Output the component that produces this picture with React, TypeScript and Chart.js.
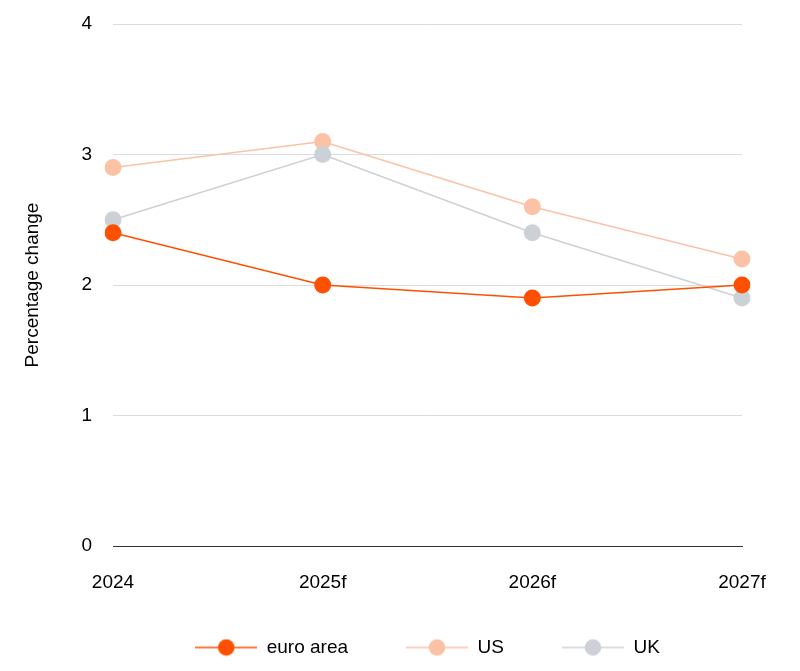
import { useRef, useEffect } from "react"
import { Chart, registerables } from "chart.js"

Chart.register(...registerables)

// Chart data
const years = ["2024", "2025f", "2026f", "2027f"]
const euroArea = [2.4, 2.0, 1.9, 2.0]
const us = [2.9, 3.1, 2.6, 2.2]
const uk = [2.5, 3.0, 2.4, 1.9]

const seriesNames = ["euro area", "US", "UK"]
const seriesColors = ["#fe5000", "#fcc2a6", "#ccd1d7"]

const FONT = "'Liberation Sans', Arial, Helvetica, sans-serif"

// legend marker: short line with a dot in the middle
function makeMarker(color: string) {
  const c = document.createElement("canvas")
  c.width = 62
  c.height = 18
  const ctx = c.getContext("2d")
  if (ctx) {
    ctx.strokeStyle = color
    ctx.lineWidth = 1.5
    ctx.beginPath()
    ctx.moveTo(0, 9)
    ctx.lineTo(62, 9)
    ctx.stroke()
    ctx.fillStyle = color
    ctx.beginPath()
    ctx.arc(31, 9, 8.3, 0, Math.PI * 2)
    ctx.fill()
  }
  return c
}

// x tick labels are clipped to the scale box, so give it room below after layout
const tickRoom = {
  id: "tickRoom",
  afterLayout(chart: any) {
    const x = chart.scales.x
    if (x) x.bottom = x.top + 60
  },
}

export default function App() {
  const chartRef = useRef<HTMLCanvasElement>(null)
  const chartInstance = useRef<Chart | null>(null)

  useEffect(() => {
    if (!chartRef.current) return
    if (chartInstance.current) chartInstance.current.destroy()

    const markers = seriesColors.map(makeMarker)
    const values = [euroArea, us, uk]
    const drawOrder = [0, 2, 1]

    const ctx = chartRef.current.getContext("2d")
    if (ctx) {
      chartInstance.current = new Chart(ctx, {
        type: "line",
        data: {
          labels: years,
          datasets: values.map((v, i) => ({
            label: seriesNames[i],
            data: v,
            borderColor: seriesColors[i],
            backgroundColor: seriesColors[i],
            pointBackgroundColor: seriesColors[i],
            pointBorderWidth: 0,
            pointRadius: 8.5,
            borderWidth: 1.5,
            tension: 0,
            order: drawOrder[i],
          })),
        },
        options: {
          responsive: true,
          maintainAspectRatio: false,
          animation: false,
          layout: {
            padding: { top: 24, right: 58, left: 0, bottom: 4 },
          },
          plugins: {
            tooltip: { enabled: false },
            legend: {
              position: "bottom",
              fullSize: false,
              labels: {
                usePointStyle: true,
                pointStyleWidth: 62,
                padding: 58,
                color: "#000",
                font: { family: FONT, size: 19 },
                sort: (a: any, b: any) => a.datasetIndex - b.datasetIndex,
                generateLabels: (chart: Chart) =>
                  Chart.defaults.plugins.legend.labels
                    .generateLabels(chart)
                    .map((l: any) => ({ ...l, pointStyle: markers[l.datasetIndex] })),
              },
            },
          },
          scales: {
            x: {
              offset: false,
              grid: { display: false, drawTicks: false },
              border: { display: true, color: "#333", width: 1 },
              ticks: {
                padding: 25,
                color: "#000",
                maxRotation: 0,
                font: { family: FONT, size: 19 },
              },
              afterFit: (scale: any) => {
                scale.height = 34
              },
            },
            y: {
              min: 0,
              max: 4,
              grid: { color: "#dcdcdc", lineWidth: 1, drawTicks: false },
              border: { display: false },
              ticks: {
                stepSize: 1,
                padding: 21,
                color: "#000",
                font: { family: FONT, size: 19 },
              },
              title: {
                display: true,
                text: "Percentage change",
                color: "#000",
                padding: { top: 21, bottom: 0 },
                font: { family: FONT, size: 19 },
              },
              afterFit: (scale: any) => {
                scale.width = 113
                scale.paddingTop = 0
                scale.paddingBottom = 0
              },
            },
          },
        },
        plugins: [tickRoom],
      })
    }

    return () => {
      if (chartInstance.current) {
        chartInstance.current.destroy()
        chartInstance.current = null
      }
    }
  }, [])

  return (
    <div style={{ position: "absolute", left: 0, top: 0, width: 800, height: 671, background: "#fff" }}>
      <canvas ref={chartRef} />
    </div>
  )
}
